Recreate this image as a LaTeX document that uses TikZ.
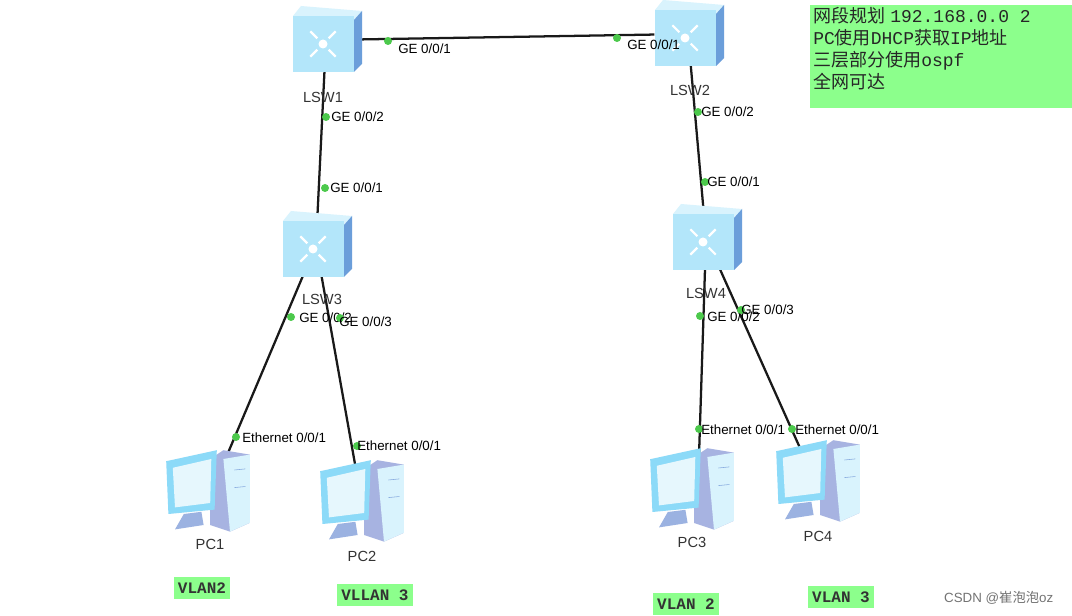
\documentclass[tikz,border=0pt]{standalone}
\usepackage{fontspec}
\setmainfont{Liberation Sans}
\newfontfamily\cjk{Noto Sans CJK SC}
\newfontfamily\mono{Liberation Mono}
\usetikzlibrary{calc}
\begin{document}
\begin{tikzpicture}[x=0.75pt,y=-0.75pt,
  lnk/.style={line width=1.7pt,black!90},
  dot/.style={circle,fill=green!70!black!70,inner sep=0pt,minimum size=6pt},
  port/.style={font=\fontsize{10pt}{10pt}\selectfont,inner sep=0pt,anchor=west},
  nm/.style={font=\fontsize{11pt}{11pt}\selectfont,text=black!80},
  vlan/.style={fill=green!45!white,font=\mono\bfseries\fontsize{12pt}{12pt}\selectfont,inner xsep=3pt,inner ysep=4pt,text=black!80}]
\useasboundingbox (0,0) rectangle (1072,616);
\fill[white] (0,0) rectangle (1072,616);
% switch anchor nodes
\node[minimum width=50pt,minimum height=46pt] (s1) at (326,40) {};
\node[minimum width=50pt,minimum height=46pt] (s2) at (688,34) {};
\node[minimum width=50pt,minimum height=46pt] (s3) at (316,245) {};
\node[minimum width=50pt,minimum height=46pt] (s4) at (706,238) {};
\node[minimum width=56pt,minimum height=56pt] (p1) at (208,492) {};
\node[minimum width=56pt,minimum height=56pt] (p2) at (362,502) {};
\node[minimum width=56pt,minimum height=56pt] (p3) at (692,490) {};
\node[minimum width=56pt,minimum height=56pt] (p4) at (818,482) {};
\coordinate (p1t) at (225,460); \coordinate (p2t) at (355,464);
\coordinate (p3t) at (699,456); \coordinate (p4t) at (800,448);
% links
\draw[lnk] (s1) -- (s2);
\draw[lnk] (s1) -- (s3);
\draw[lnk] (s2) -- (s4);
\draw[lnk] (s3) -- (p1t);
\draw[lnk] (s3) -- (p2t);
\draw[lnk] (s4) -- (p3t);
\draw[lnk] (s4) -- (p4t);
% switch icons
\foreach \n in {s1,s2,s3,s4}{
  \begin{scope}[shift={(\n.center)}]
    \fill[cyan!15] (-33,-24) -- (-25,-34) -- (36,-29) -- (28,-20) -- cycle;
    \fill[cyan!55!blue!60] (28,-20) -- (36,-29) -- (36,24) -- (28,32) -- cycle;
    \fill[cyan!30] (-33,-24) rectangle (28,32);
    \foreach \a in {45,135,225,315}{
      \draw[white,line width=1.6pt] ($(-3,4)+(\a:8)$) -- ($(-3,4)+(\a:18)$);
    }
    \fill[white] (-3,4) circle (4.5);
  \end{scope}
}
% pc icons
\foreach \n in {p1,p2,p3,p4}{
  \begin{scope}[shift={(\n.center)},scale=1.1]
    \fill[cyan!35!blue!35] (2,-30) -- (14,-38) -- (38,-34) -- (38,28) -- (20,36) -- (2,30) -- cycle;
    \fill[cyan!15] (14,-30) -- (38,-34) -- (38,28) -- (20,36) -- cycle;
    \fill[cyan!45] (-38,-28) -- (8,-38) -- (6,16) -- (-36,20) -- cycle;
    \fill[cyan!10] (-32,-22) -- (3,-30) -- (2,10) -- (-30,14) -- cycle;
    \fill[cyan!45!blue!40] (-22,20) -- (-6,18) -- (-4,30) -- (-30,34) -- cycle;
    \draw[cyan!50!blue!50] (24,-20) -- (34,-21) (24,-4) -- (34,-5);
  \end{scope}
}
% names
\node[nm] at (323,97) {LSW1};
\node[nm] at (690,90) {LSW2};
\node[nm] at (322,299) {LSW3};
\node[nm] at (706,293) {LSW4};
\node[nm] at (210,544) {PC1};
\node[nm] at (362,556) {PC2};
\node[nm] at (692,542) {PC3};
\node[nm] at (818,536) {PC4};
% port dots and labels
\foreach \x/\y/\lx/\ly/\t in {
 388/41/398/49/{GE 0/0/1}, 617/38/627/45/{GE 0/0/1},
 326/117/331/117/{GE 0/0/2}, 325/188/330/188/{GE 0/0/1},
 698/112/701/112/{GE 0/0/2}, 705/182/707/182/{GE 0/0/1},
 291/317/299/318/{GE 0/0/2}, 340/318/339/322/{GE 0/0/3},
 236/437/242/438/{Ethernet 0/0/1}, 357/446/357/446/{Ethernet 0/0/1},
 700/316/707/317/{GE 0/0/2}, 741/310/741/310/{GE 0/0/3},
 699/429/701/430/{Ethernet 0/0/1}, 792/429/795/430/{Ethernet 0/0/1}}{
  \node[dot] at (\x,\y) {};
  \node[port] at (\lx,\ly) {\t};
}
% note
\fill[green!45!white] (810,5) rectangle (1072,108);
\begin{scope}
\clip (810,5) rectangle (1072,108);
\node[anchor=north west,align=left,inner sep=0pt,font=\fontsize{13.5pt}{16.5pt}\selectfont,text=black!85] at (813,7)
 {{\cjk 网段规划} {\mono 192.168.0.0 2}\\{\mono PC}{\cjk 使用}{\mono DHCP}{\cjk 获取}{\mono IP}{\cjk 地址}\\{\cjk 三层部分使用}{\mono ospf}\\{\cjk 全网可达}};
\end{scope}
% vlan labels
\node[vlan] at (202,588) {VLAN2};
\node[vlan] at (375,595) {VLLAN 3};
\node[vlan] at (686,604) {VLAN 2};
\node[vlan] at (841,597) {VLAN 3};
\node[text=black!55,font=\fontsize{10pt}{10pt}\selectfont,anchor=east] at (1058,598) {CSDN @{\cjk 崔泡泡}oz};
\end{tikzpicture}
\end{document}
